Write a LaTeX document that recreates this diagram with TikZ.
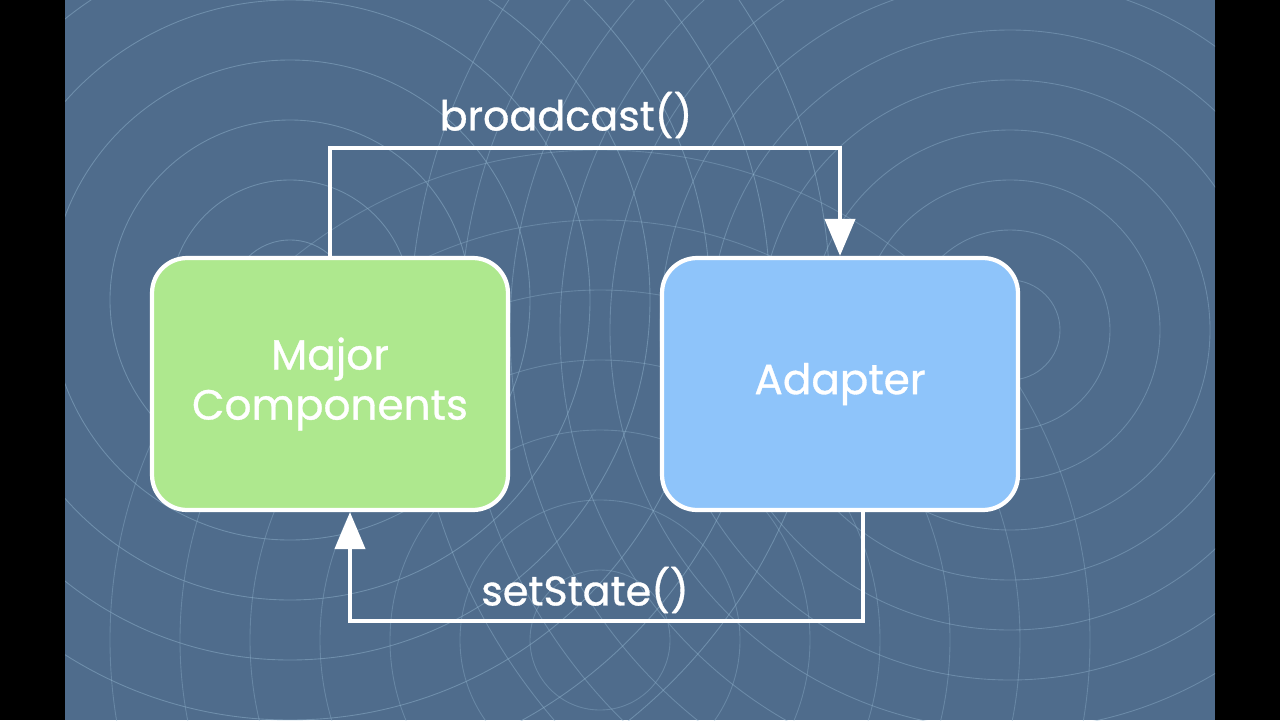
\documentclass[tikz,border=0pt]{standalone}
\usepackage{fontspec}
\setmainfont{Poppins}
\newfontfamily\medfont{Poppins}[FakeBold=0.8]
\usetikzlibrary{arrows.meta}
\definecolor{slate}{RGB}{79,108,140}
\definecolor{ring}{RGB}{150,185,210}
\definecolor{leaf}{RGB}{174,232,142}
\definecolor{sky}{RGB}{142,196,250}
\tikzset{
  box/.style={draw=white, line width=2.4pt, rounded corners=0.7cm,
    minimum width=7.12cm, minimum height=5.04cm, align=center,
    text=white, font=\medfont\fontsize{24}{28.5}\selectfont},
  flow/.style={draw=white, line width=2.4pt,
    -{Triangle[length=0.74cm, width=0.6cm]}},
  call/.style={text=white, font=\medfont\fontsize{23.5}{28}\selectfont}
}
\begin{document}
\begin{tikzpicture}[x=0.02cm, y=-0.02cm]
\useasboundingbox (0,0) rectangle (1280,720);
\fill[black] (0,0) rectangle (1280,720);
\fill[slate] (65,0) rectangle (1215,720);
\begin{scope}
\clip (65,0) rectangle (1215,720);
\foreach \r in {60, 120, ..., 540}
  \draw[ring, opacity=0.45, line width=0.5pt] (290,300) circle (\r);
\foreach \r in {50, 100, ..., 600}
  \draw[ring, opacity=0.4, line width=0.5pt] (1010,330) circle (\r);
\foreach \r in {70, 140, ..., 490}
  \draw[ring, opacity=0.35, line width=0.5pt] (600,640) circle (\r);
\end{scope}
\node[box, fill=leaf] (major) at (330,384) {Major\\Components};
\node[box, fill=sky] (adapter) at (840,384) {Adapter};
\draw[flow] (major.north) -- ++(0,-108) -| (adapter.north);
\draw[flow] ([xshift=0.46cm]adapter.south) -- ++(0,109)
  -| ([xshift=0.4cm]major.south);
\node[call] (bcast) at (566,115) {broadcast()};
\node[call] (setst) at (585,590) {setState()};
\end{tikzpicture}
\end{document}
